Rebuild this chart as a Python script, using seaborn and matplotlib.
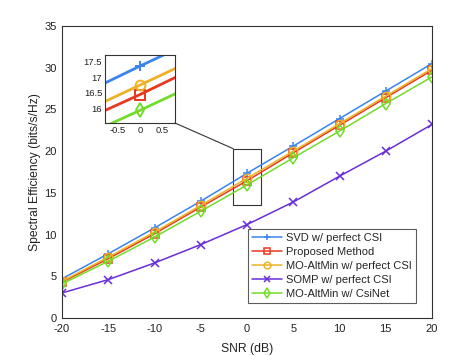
import matplotlib
matplotlib.use("Agg")
import matplotlib.pyplot as plt
import seaborn as sns
from matplotlib.patches import Rectangle, ConnectionPatch

snr_db = [-20, -15, -10, -5, 0, 5, 10, 15, 20]
svd = [4.7, 7.7, 10.8, 14.0, 17.35, 20.6, 23.9, 27.2, 30.5]
proposed = [4.3, 7.1, 10.1, 13.3, 16.45, 19.8, 23.1, 26.4, 29.7]
mo_altmin = [4.4, 7.3, 10.3, 13.5, 16.75, 20.0, 23.3, 26.6, 29.9]
somp = [3.0, 4.6, 6.6, 8.8, 11.2, 13.9, 17.0, 20.0, 23.2]
csinet = [4.1, 6.8, 9.7, 12.8, 15.95, 19.2, 22.4, 25.7, 28.9]

labels = ["SVD w/ perfect CSI", "Proposed Method", "MO-AltMin w/ perfect CSI",
          "SOMP w/ perfect CSI", "MO-AltMin w/ CsiNet"]
series = [svd, proposed, mo_altmin, somp, csinet]
colors = ["#3a84ef", "#e8381f", "#eeb126", "#6a2ed8", "#72dc2a"]
markers = ["+", "s", "o", "x", "d"]

sns.set_style("white")
plt.rcParams["font.family"] = ["Liberation Sans", "DejaVu Sans"]
plt.rcParams["xtick.direction"] = "in"
plt.rcParams["ytick.direction"] = "in"
plt.rcParams["axes.unicode_minus"] = False

fig = plt.figure(figsize=(4.74, 3.56), dpi=100)
ax = fig.add_axes([62 / 474, 38 / 356, 370 / 474, 292 / 356])

for vals, lab, col, mk in zip(series, labels, colors, markers):
  sns.lineplot(x=snr_db, y=vals, ax=ax, color=col, marker=mk, markersize=6,
               markerfacecolor="none", markeredgecolor=col, markeredgewidth=1.1,
               linewidth=1.1, label=lab)

ax.set_xlim(-20, 20)
ax.set_ylim(0, 35)
ax.set_xticks(range(-20, 21, 5))
ax.set_yticks(range(0, 36, 5))
ax.tick_params(labelsize=8, length=3, color="#333333", pad=4, labelcolor="#222222")
ax.set_xlabel("SNR (dB)", fontsize=8.7, labelpad=7, color="#222222")
ax.set_ylabel("Spectral Efficiency (bits/s/Hz)", fontsize=8.7, labelpad=2, color="#222222")
for sp in ax.spines.values():
  sp.set_color("#333333")
  sp.set_linewidth(0.8)

leg = ax.legend(loc="lower right", bbox_to_anchor=(0.957, 0.053), fontsize=8,
                frameon=True, fancybox=False, edgecolor="#333333",
                handlelength=2.7, handletextpad=0.4, borderpad=0.35,
                labelspacing=0.35, borderaxespad=0, markerscale=0.8)
leg.get_frame().set_linewidth(0.8)

# zoom rectangle in main axes
ax.add_patch(Rectangle((-1.5, 13.5), 3.0, 6.8, fill=False, edgecolor="#333333", linewidth=0.8))

# inset
ins = fig.add_axes([105 / 474, 1 - 123 / 356, 70 / 474, 68 / 356])
for vals, col, mk in zip(series, colors, markers):
  sns.lineplot(x=snr_db, y=vals, ax=ins, color=col, marker=mk, markersize=7,
               markerfacecolor="none", markeredgecolor=col, markeredgewidth=1.4,
               linewidth=2.0, legend=False)
ins.set_xlim(-0.8, 0.8)
ins.set_ylim(15.55, 17.7)
ins.set_xticks([-0.5, 0, 0.5])
ins.set_yticks([16, 16.5, 17, 17.5])
ins.set_xticklabels(["-0.5", "0", "0.5"])
ins.set_yticklabels(["16", "16.5", "17", "17.5"])
ins.tick_params(labelsize=6.8, length=2, color="#333333", pad=2, labelcolor="#222222")
ins.set_xlabel("")
ins.set_ylabel("")
for sp in ins.spines.values():
  sp.set_color("#333333")
  sp.set_linewidth(0.8)

con = ConnectionPatch(xyA=(1, 0), coordsA=ins.transAxes, xyB=(-1.5, 20.3), coordsB=ax.transData,
                      color="#333333", linewidth=0.8)
fig.add_artist(con)

fig.savefig("out.png", dpi=100)
